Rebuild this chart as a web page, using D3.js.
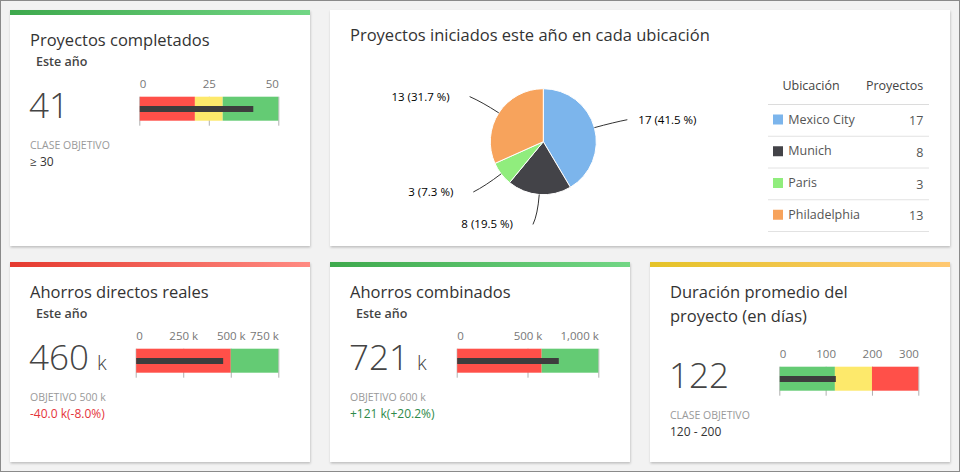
<!DOCTYPE html>
<html>
<head>
<meta charset="utf-8">
<script src="https://cdn.jsdelivr.net/npm/d3@7"></script>
<style>
body { margin: 0; background: #f2f2f2; font-family: "Open Sans", sans-serif; }
svg { display: block; }
</style>
</head>
<body>
<svg></svg>
<script>
// pie data
const locations = ['Mexico City', 'Munich', 'Paris', 'Philadelphia'];
const projects = [17, 8, 3, 13];
const pieColors = ['#7cb5ec', '#434348', '#90ed7d', '#f7a35c'];

// kpi cards
const kpiTitles = [['Proyectos completados'], ['Ahorros directos reales'], ['Ahorros combinados'], ['Duración promedio del', 'proyecto (en días)']];
const kpiSubtitles = ['Este año', 'Este año', 'Este año', null];
const kpiValues = [41, 460, 721, 122];
const kpiUnits = ['', 'k', 'k', ''];
const kpiBands = [[0, 20, 30, 50], [0, 500, 750], [0, 600, 1000], [0, 120, 200, 300]];
const kpiBandColors = [['#ff5049', '#fde96b', '#64cb74'], ['#ff5049', '#64cb74'], ['#ff5049', '#64cb74'], ['#64cb74', '#fde96b', '#ff5049']];
const kpiTicks = [[0, 25, 50], [0, 250, 500, 750], [0, 500, 1000], [0, 100, 200, 300]];
const kpiTargetLabels = ['CLASE OBJETIVO', 'OBJETIVO 500 k', 'OBJETIVO 600 k', 'CLASE OBJETIVO'];
const kpiTargetTexts = ['≥ 30', '-40.0 k(-8.0%)', '+121 k(+20.2%)', '120 - 200'];
const kpiTargetColors = ['#333', '#e5343a', '#2e8a4a', '#333'];
const kpiStripes = [['#3ea94d', '#72d685'], ['#e53a2f', '#ff8a82'], ['#3ea94d', '#72d685'], ['#e5c328', '#ffc872']];

const W = 960, H = 472;
const svg = d3.select('svg').attr('width', W).attr('height', H);
const defs = svg.append('defs');

const shadow = defs.append('filter').attr('id', 'shadow')
  .attr('x', '-5%').attr('y', '-5%').attr('width', '110%').attr('height', '115%');
shadow.append('feDropShadow').attr('dx', 0.5).attr('dy', 1.5).attr('stdDeviation', 1.3)
  .attr('flood-color', '#000').attr('flood-opacity', 0.22);

kpiStripes.forEach((c, i) => {
  const lg = defs.append('linearGradient').attr('id', 'stripe' + i);
  lg.append('stop').attr('offset', '0%').attr('stop-color', c[0]);
  lg.append('stop').attr('offset', '100%').attr('stop-color', c[1]);
});

svg.append('rect').attr('width', W).attr('height', H).attr('fill', '#f2f2f2');
svg.append('rect').attr('x', 0.5).attr('y', 0.5).attr('width', W - 1).attr('height', H - 1)
  .attr('fill', 'none').attr('stroke', '#8a8a8a');

// ---- kpi cards ----
const cardPos = [[10, 10, 236], [10, 262, 200], [330, 262, 200], [650, 262, 200]];
const axisStart = [129.3, 125.7, 126.7, 129.3];

kpiValues.forEach((v, i) => {
  const [cx, cy, ch] = cardPos[i];
  const g = svg.append('g').attr('transform', `translate(${cx},${cy})`);
  g.append('rect').attr('width', 300).attr('height', ch).attr('fill', '#fff').attr('filter', 'url(#shadow)');
  g.append('rect').attr('width', 300).attr('height', 5).attr('fill', `url(#stripe${i})`);

  kpiTitles[i].forEach((t, j) => {
    g.append('text').attr('x', 20).attr('y', 36 + j * 24).text(t)
      .attr('font-size', 16.5).attr('fill', '#333');
  });
  if (kpiSubtitles[i]) {
    g.append('text').attr('x', 26).attr('y', 56).text(kpiSubtitles[i])
      .attr('font-size', 12.5).attr('font-weight', 600).attr('fill', '#444');
  }
  const dy = kpiTitles[i].length > 1 ? 18 : 0;

  const big = g.append('text').attr('x', 19).attr('y', 108 + dy)
    .attr('fill', '#444').attr('font-weight', 300);
  big.append('tspan').attr('font-size', 35).text(v);
  if (kpiUnits[i]) big.append('tspan').attr('dx', 8).attr('font-size', 20).text(kpiUnits[i]);

  g.append('text').attr('x', 20).attr('y', 139 + dy).text(kpiTargetLabels[i])
    .attr('font-size', 10.5).attr('fill', '#999');
  g.append('text').attr('x', 20).attr('y', 156 + dy).text(kpiTargetTexts[i])
    .attr('font-size', 12).attr('fill', kpiTargetColors[i]);

  // bullet
  const bands = kpiBands[i];
  const x = d3.scaleLinear().domain([0, d3.max(kpiTicks[i])]).range([axisStart[i], 268.3]);
  const bandTop = 86.7 + dy, bandH = 24;
  const fmt = kpiUnits[i] ? (d => d === 0 ? '0' : d3.format(',')(d) + ' k') : d3.format('d');

  const grid = g.append('g').attr('transform', `translate(0,${bandTop})`)
    .call(d3.axisBottom(x).tickValues(kpiTicks[i]).tickSize(bandH + 5).tickFormat(''));
  grid.select('.domain').remove();
  grid.selectAll('line').attr('stroke', '#b0b0b0');

  g.selectAll('rect.band').data(d3.pairs(bands)).enter().append('rect')
    .attr('class', 'band')
    .attr('x', d => x(d[0]) + (d[0] === 0 ? 0.5 : 0))
    .attr('width', d => x(d[1]) - x(d[0]) - (d[0] === 0 ? 0.5 : 0))
    .attr('y', bandTop).attr('height', bandH)
    .attr('fill', (d, k) => kpiBandColors[i][k]);

  g.append('rect').attr('x', x(0) + 0.5).attr('y', bandTop + 9.3).attr('height', 6)
    .attr('width', x(v) - x(0) - 0.5).attr('fill', '#3d3d3d');

  const ax = g.append('g').attr('transform', `translate(0,${bandTop - 8.7})`)
    .call(d3.axisTop(x).tickValues(kpiTicks[i]).tickSize(0).tickPadding(0).tickFormat(fmt));
  ax.select('.domain').remove();
  const n = kpiTicks[i].length;
  ax.selectAll('text').attr('fill', '#777').attr('font-size', 11.5)
    .attr('font-family', '"Open Sans", sans-serif')
    .attr('text-anchor', (d, k) => k === 0 ? 'start' : (k === n - 1 ? 'end' : 'middle'));
});

// ---- pie card ----
const pg = svg.append('g').attr('transform', 'translate(330,10)');
pg.append('rect').attr('width', 620).attr('height', 236).attr('fill', '#fff').attr('filter', 'url(#shadow)');
pg.append('text').attr('x', 20).attr('y', 31).text('Proyectos iniciados este año en cada ubicación')
  .attr('font-size', 16.5).attr('fill', '#333');

const total = d3.sum(projects);
const r = 53;
const pieG = pg.append('g').attr('transform', 'translate(213.3,131.7)');
const arcs = d3.pie().sort(null)(projects);
const arc = d3.arc().innerRadius(0).outerRadius(r);
pieG.selectAll('path.slice').data(arcs).enter().append('path')
  .attr('class', 'slice').attr('d', arc)
  .attr('fill', (d, k) => pieColors[k]).attr('stroke', '#fff').attr('stroke-width', 1);

const polar = (a, rad) => [rad * Math.sin(a), -rad * Math.cos(a)];
arcs.forEach((d, k) => {
  const mid = (d.startAngle + d.endAngle) / 2;
  const side = Math.sin(mid) >= 0 ? 1 : -1;
  const p0 = polar(mid, r), c = polar(mid, r + 20), p1 = polar(mid, r + 30);
  p1[0] += side * 4;
  pieG.append('path')
    .attr('d', `M${p0}Q${c} ${p1}`)
    .attr('fill', 'none').attr('stroke', '#333').attr('stroke-width', 1);
  pieG.append('text')
    .attr('x', p1[0] + (side > 0 ? 11 : -20)).attr('y', p1[1]).attr('dy', '0.35em')
    .attr('text-anchor', side > 0 ? 'start' : 'end')
    .attr('font-size', 11.5).attr('fill', '#000')
    .text(`${d.data} (${d3.format('.1f')(d.data / total * 100)} %)`);
});

// legend table
const tg = pg.append('g').attr('transform', 'translate(438,0)');
tg.append('text').attr('x', 43).attr('y', 80).attr('text-anchor', 'middle')
  .attr('font-size', 12.5).attr('fill', '#444').text('Ubicación');
tg.append('text').attr('x', 155.3).attr('y', 80).attr('text-anchor', 'end')
  .attr('font-size', 12.5).attr('fill', '#444').text('Proyectos');
tg.append('line').attr('x1', 0).attr('x2', 161).attr('y1', 94.5).attr('y2', 94.5)
  .attr('stroke', '#dcdcdc').attr('stroke-width', 1.2);

const rowY = d3.scaleBand().domain(locations).range([94.5, 221.5]);
const rows = tg.selectAll('g.row').data(locations).enter().append('g')
  .attr('class', 'row').attr('transform', d => `translate(0,${rowY(d)})`);
rows.append('line').attr('x1', 0).attr('x2', 161).attr('y1', rowY.bandwidth()).attr('y2', rowY.bandwidth())
  .attr('stroke', '#e2e2e2');
rows.append('rect').attr('x', 5).attr('y', 10).attr('width', 10).attr('height', 10)
  .attr('fill', (d, k) => pieColors[k]);
rows.append('text').attr('x', 20.3).attr('y', 19).attr('font-size', 12.5).attr('fill', '#555').text(d => d);
rows.append('text').attr('x', 155.3).attr('y', 20.5).attr('text-anchor', 'end')
  .attr('font-size', 12.5).attr('fill', '#555').text((d, k) => projects[k]);
</script>
</body>
</html>
